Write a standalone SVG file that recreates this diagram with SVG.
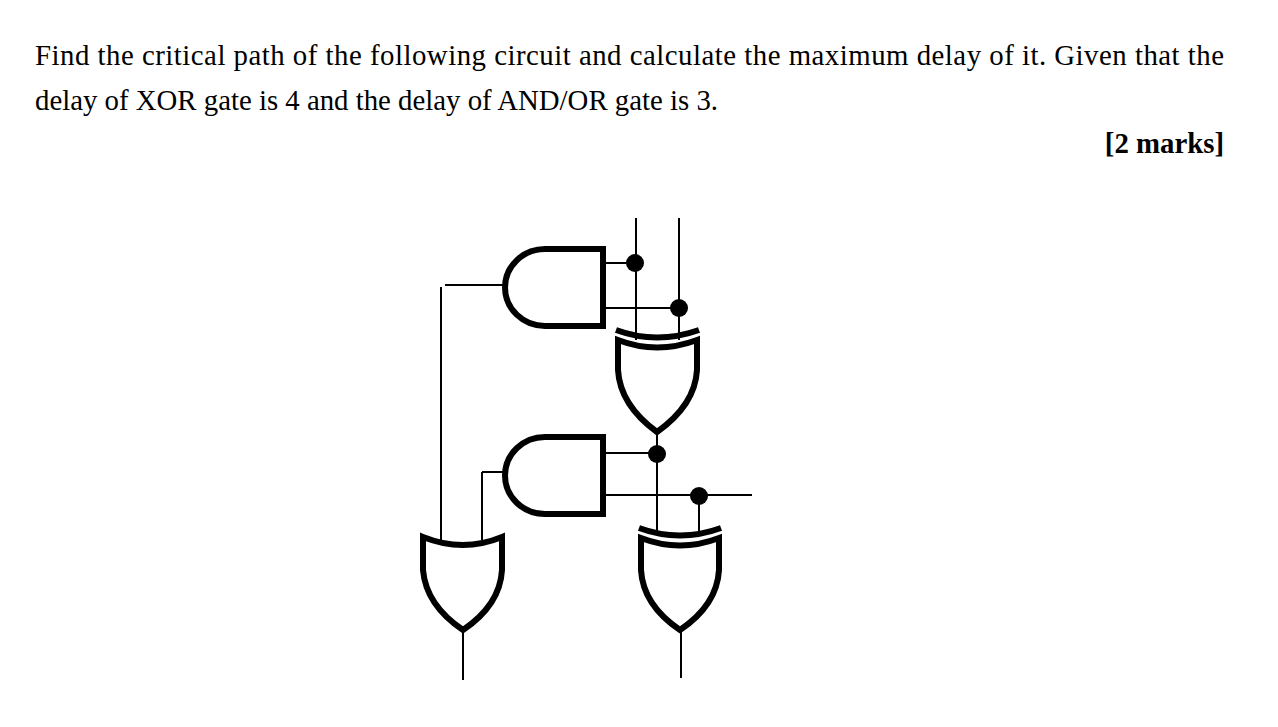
<svg xmlns="http://www.w3.org/2000/svg" width="1278" height="727" viewBox="0 0 1278 727">
<style>
.t{font-family:"Liberation Serif",serif;font-size:28.8px;fill:#000}
.g{fill:none;stroke:#000;stroke-width:6}
.w{fill:none;stroke:#000;stroke-width:2}
.d{fill:#000}
</style>
<rect width="1278" height="727" fill="#fff"/>
<text class="t" x="35" y="65" textLength="1189" lengthAdjust="spacing">Find the critical path of the following circuit and calculate the maximum delay of it. Given that the</text>
<text class="t" x="35" y="110">delay of XOR gate is 4 and the delay of AND/OR gate is 3.</text>
<text class="t" x="1224" y="153" text-anchor="end" font-weight="bold">[2 marks]</text>
<g id="connectors">
<path class="w" d="M445,285H505 M441,287V540 M603,263H635 M603,308H679 M636,218V340 M679,218V340 M657,432V532 M482,472H505 M482,472V540 M603,453H657 M603,495H752 M699,495V532 M463,630V680 M681,630V678"/>
<circle class="d" cx="635" cy="263" r="9"/>
<circle class="d" cx="679" cy="308" r="9"/>
<circle class="d" cx="657" cy="454" r="9"/>
<circle class="d" cx="699" cy="496" r="9"/>
</g>
<g id="and1"><path class="g" d="M603,249H545A40,38.5 0 0 0 545,326H603Z"/></g>
<g id="and2"><path class="g" d="M603,437H545A40,38.5 0 0 0 545,514H603Z"/></g>
<g id="xor1">
<path class="g" d="M618,340Q657,355 697,340V370Q695,405 657,432Q620,405 618,370Z"/>
<path class="g" d="M616,330Q657,345 699,330"/>
</g>
<g id="or1"><path class="g" d="M423,537Q463,553 502,537V570Q500,605 463,630Q426,605 423,570Z"/></g>
<g id="xor2">
<path class="g" d="M641,538Q680,553 719,538V570Q717,605 680,630Q643,605 641,570Z"/>
<path class="g" d="M639,528Q680,543 721,528"/>
</g>
</svg>
